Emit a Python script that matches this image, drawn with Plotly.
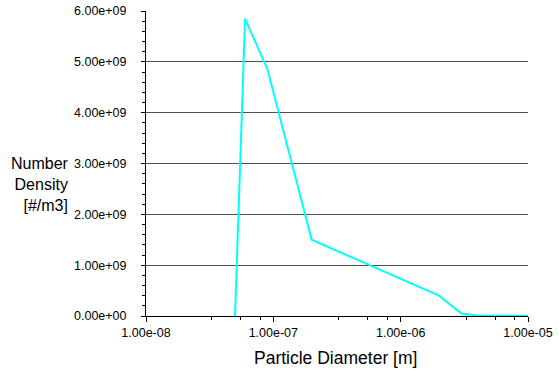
import plotly.graph_objects as go

diameter_m = [5.0e-8, 6.0e-8, 9.0e-8, 2.0e-7, 2.0e-6, 3.0e-6, 4.0e-6, 6.0e-6, 1.0e-5]
number_density = [0.0, 5.85e9, 4.85e9, 1.5e9, 0.4e9, 0.05e9, 0.01e9, 0.002e9, 0.0]

x_tick_vals = [1e-8, 1e-7, 1e-6, 1e-5]
x_tick_text = ["1.00e-08", "1.00e-07", "1.00e-06", "1.00e-05"]
y_tick_vals = [0, 1e9, 2e9, 3e9, 4e9, 5e9, 6e9]
y_tick_text = ["0.00e+00", "1.00e+09", "2.00e+09", "3.00e+09", "4.00e+09", "5.00e+09", "6.00e+09"]

x_title = "Particle Diameter [m]"
y_title = "Number<br>Density<br>[#/m3]"

minor_mult = [3.27, 5.53, 7.87]
x_minor = [d * m for d in x_tick_vals[:-1] for m in minor_mult]

FONT = "Liberation Sans, Arial, sans-serif"
TICK_SIZE = 12.5

fig = go.Figure()
fig.add_trace(go.Scatter(
    x=diameter_m, y=number_density, mode="lines",
    line=dict(color="#00FFFF", width=2), showlegend=False, hoverinfo="skip",
))

fig.update_layout(
    width=559, height=379,
    margin=dict(l=146, r=31, t=11, b=63, autoexpand=False),
    paper_bgcolor="white", plot_bgcolor="white",
    font=dict(family=FONT, size=TICK_SIZE, color="black"),
    hovermode=False,
    xaxis=dict(
        type="log", range=[-8.0000001, -4.9999999],
        tickmode="array", tickvals=x_tick_vals, ticktext=x_tick_text,
        ticks="outside", ticklen=5, tickwidth=1, tickcolor="black",
        showline=True, linecolor="black", linewidth=1,
        showgrid=False, zeroline=False, ticklabeloverflow="allow",
        tickfont=dict(family=FONT, size=TICK_SIZE, color="black"),
        minor=dict(tickmode="array", tickvals=x_minor, ticks="outside",
                   ticklen=3, tickcolor="black", tickwidth=1, showgrid=False),
    ),
    yaxis=dict(
        range=[0, 6e9],
        tickmode="array", tickvals=y_tick_vals, ticktext=y_tick_text,
        ticks="outside", ticklen=4, tickwidth=1, tickcolor="black",
        showline=True, linecolor="black", linewidth=1,
        showgrid=True, gridcolor="#505050", gridwidth=1,
        zeroline=False, ticklabeloverflow="allow",
        tickfont=dict(family=FONT, size=TICK_SIZE, color="black"),
        ticklabelstandoff=12,
        minor=dict(dtick=2e8, tick0=0, ticks="outside", ticklen=3,
                   tickcolor="black", tickwidth=1, showgrid=False),
    ),
    annotations=[
        dict(text=y_title, xref="paper", yref="paper", x=-0.196, y=0.43,
             xanchor="right", yanchor="middle", align="right", showarrow=False,
             font=dict(family=FONT, size=16, color="black")),
        dict(text=x_title, xref="paper", yref="paper", x=0.495, y=-0.138,
             xanchor="center", yanchor="middle", showarrow=False,
             font=dict(family=FONT, size=17.5, color="black")),
    ],
)

fig.write_html("out.html", config={"displayModeBar": False},
               post_script="document.body.style.margin='0';")
